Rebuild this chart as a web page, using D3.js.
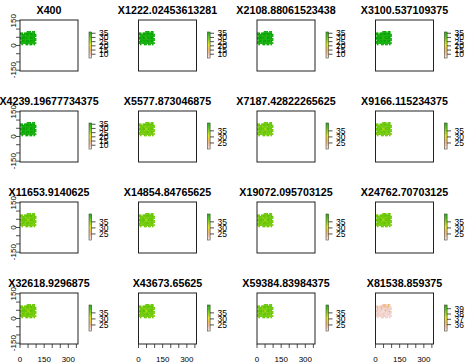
<!DOCTYPE html>
<html>
<head>
<meta charset="utf-8">
<title>Raster stack</title>
<style>
  body { margin: 0; background: #fff; }
  svg { display: block; font-family: "Liberation Sans", Arial, sans-serif; }
</style>
</head>
<body>
<svg id="chart"></svg>
<script src="https://d3js.org/d3.v7.min.js"></script>
<script>
// layer names
var titles = ["X400", "X1222.02453613281", "X2108.88061523438", "X3100.537109375",
  "X4239.19677734375", "X5577.873046875", "X7187.42822265625", "X9166.115234375",
  "X11653.9140625", "X14854.84765625", "X19072.095703125", "X24762.70703125",
  "X32618.9296875", "X43673.65625", "X59384.83984375", "X81538.859375"];

// colour legend range for every layer
var legendMin = [5.5, 5.5, 5.5, 5.5, 5.5, 20, 20, 20, 20, 20, 20, 20, 20, 20, 20, 34.8];
var legendMax = [36.5, 36.5, 36.5, 36.5, 36.5, 41.5, 41.5, 41.5, 41.5, 41.5, 41.5, 41.5, 41.5, 41.5, 41.5, 39.7];
var legendTicks = [
  [35, 30, 25, 20, 15, 10], [35, 30, 25, 20, 15, 10], [35, 30, 25, 20, 15, 10],
  [35, 30, 25, 20, 15, 10], [35, 30, 25, 20, 15, 10],
  [35, 30, 25], [35, 30, 25], [35, 30, 25], [35, 30, 25], [35, 30, 25],
  [35, 30, 25], [35, 30, 25], [35, 30, 25], [35, 30, 25], [35, 30, 25],
  [39, 38, 37, 36]];

// which cell grid each layer uses
var gridOf = [0, 0, 0, 0, 0, 0, 0, 0, 0, 0, 0, 0, 0, 0, 0, 1];

// cell values, top row first (null = NA)
var greenGrid = [
  [null, null, null, null, null, 35.6, 35.8, 36.0, null, 35.9, 36.1, null],
  [35.2, 35.4, null, 35.8, 36.0, 36.2, 36.1, 36.3, 36.4, 36.2, 36.0, null],
  [35.5, 35.7, 35.9, 34.8, 36.1, 36.0, 35.2, 36.4, 36.3, 35.0, 36.2, 35.8],
  [null, 35.8, 36.0, 36.2, 33.9, 36.3, 36.5, 34.2, 36.4, 36.2, 36.0, 35.9],
  [35.6, 35.9, 36.1, 36.3, 36.4, 33.5, 34.0, 36.5, 36.3, 36.1, 35.9, null],
  [35.7, 36.0, 36.2, 36.4, 36.5, 34.1, 33.6, 36.4, 36.2, 36.0, 35.8, 35.6],
  [null, 35.9, 36.1, 36.0, 34.0, 36.3, 36.4, 34.4, 36.1, 35.9, 35.7, 35.5],
  [35.4, 35.7, 35.9, 34.6, 36.1, 36.2, 36.1, 36.0, 34.9, 35.8, 35.6, null],
  [35.3, 35.5, 35.6, 35.8, 35.9, 36.0, 35.9, 35.8, 35.7, 35.5, 35.4, 35.2],
  [null, 35.2, null, null, 35.6, 35.7, null, 35.6, 35.5, null, 35.3, null]
];
var paleGrid = [
  [null, null, null, null, null, 35.4, 35.6, 35.5, null, 36.2, 35.3, null],
  [35.2, 35.3, null, 35.5, 35.4, 35.6, 36.3, 35.5, 35.4, 36.6, 35.3, null],
  [35.1, 36.4, 35.3, 35.2, 35.5, 35.3, 35.2, 35.4, 35.6, 35.3, 35.2, 35.1],
  [null, 35.4, 35.2, 35.1, 36.1, 35.2, 35.3, 35.1, 35.2, 35.4, 35.3, 35.2],
  [35.3, 35.5, 35.2, 35.1, 35.2, 35.0, 35.1, 36.2, 35.3, 35.1, 35.2, null],
  [35.4, 35.2, 35.1, 35.3, 35.1, 35.0, 35.1, 35.2, 35.1, 35.3, 36.0, 35.2],
  [null, 35.3, 35.2, 35.1, 35.0, 35.2, 35.3, 35.1, 35.2, 35.1, 35.2, 35.1],
  [35.2, 35.4, 35.3, 35.1, 35.2, 35.4, 35.1, 35.0, 35.1, 35.2, 35.3, null],
  [35.1, 35.2, 35.3, 35.2, 35.1, 35.2, 35.3, 35.2, 35.1, 35.0, 35.1, 35.2],
  [null, 35.1, null, null, 35.2, 35.3, null, 35.1, 35.2, null, 35.1, null]
];
var grids = [greenGrid, paleGrid];

// raster extent in map units
var gridX = [0, 100];
var gridY = [3, 88];

var xTicks = [0, 50, 100, 150, 200, 250, 300, 350];
var xLabels = [0, 150, 300];
var yTicks = [-150, -100, -50, 0, 50, 100, 150];
var yLabels = [-150, 0, 150];

var width = 474, height = 364;
var boxW = 58, boxH = 51;

var svg = d3.select("#chart")
  .attr("width", width)
  .attr("height", height);

// R terrain.colors, t = 0 green ... t = 1 light grey
function hsv(h, s, v) {
  var c = v * s, hp = h / 60, x = c * (1 - Math.abs(hp % 2 - 1)), m = v - c;
  var r = 0, g = 0, b = 0;
  if (hp < 1) { r = c; g = x; }
  else if (hp < 2) { r = x; g = c; }
  else { g = c; b = x; }
  return d3.rgb((r + m) * 255, (g + m) * 255, (b + m) * 255);
}
function terrain(t) {
  if (t <= 0.5) {
    var u = t / 0.5;
    return hsv(120 - 60 * u, 1, 0.65 + 0.25 * u);
  }
  var w = (t - 0.5) / 0.5;
  return hsv(60 - 60 * w, 1 - w, 0.9 + 0.05 * w);
}

titles.forEach(function(title, i) {
  var left = 20 + (i % 4) * 118.5,
      top = 20 + Math.floor(i / 4) * 91;
  var g = svg.append("g");

  var x = d3.scaleLinear().domain([0, 360]).range([left, left + boxW]);
  var y = d3.scaleLinear().domain([-155, 155]).range([top + boxH, top]);
  var tcol = d3.scaleLinear().domain([legendMax[i], legendMin[i]]).range([0, 1]).clamp(true);

  // raster cells
  var grid = grids[gridOf[i]];
  var nr = grid.length, nc = grid[0].length;
  var cw = (gridX[1] - gridX[0]) / nc, ch = (gridY[1] - gridY[0]) / nr;
  var cells = [];
  grid.forEach(function(row, r) {
    row.forEach(function(v, c) {
      if (v !== null) cells.push({ r: r, c: c, v: v });
    });
  });
  g.selectAll(".cell").data(cells).enter().append("rect")
    .attr("x", d => x(gridX[0] + d.c * cw))
    .attr("y", d => y(gridY[1] - d.r * ch))
    .attr("width", x(cw) - x(0) + 0.3)
    .attr("height", y(0) - y(ch) + 0.3)
    .attr("fill", d => terrain(tcol(d.v)));

  // frame
  g.append("rect")
    .attr("x", left).attr("y", top)
    .attr("width", boxW).attr("height", boxH)
    .attr("fill", "none").attr("stroke", "#222").attr("stroke-width", 1);

  g.append("text")
    .attr("x", left + boxW / 2).attr("y", top - 6)
    .attr("text-anchor", "middle")
    .style("font-size", "10.7px").style("font-weight", "bold")
    .text(title);

  // legend bar
  var ly = d3.scaleLinear().domain([legendMin[i], legendMax[i]]).range([top + 38, top + 12]);
  var lx = left + boxW + 11;
  var steps = d3.range(60).map(k => legendMin[i] + (legendMax[i] - legendMin[i]) * k / 60);
  var stepH = (ly.range()[0] - ly.range()[1]) / 60;
  g.selectAll(".lg").data(steps).enter().append("rect")
    .attr("x", lx).attr("width", 2.6)
    .attr("y", d => ly(d) - stepH)
    .attr("height", stepH + 0.2)
    .attr("fill", d => terrain(tcol(d)));
  g.append("rect")
    .attr("x", lx).attr("y", ly.range()[1])
    .attr("width", 2.6).attr("height", ly.range()[0] - ly.range()[1])
    .attr("fill", "none").attr("stroke", "#4a4a30").attr("stroke-width", 0.6);
  g.selectAll(".lt").data(legendTicks[i]).enter().append("line")
    .attr("x1", lx + 2.6).attr("x2", lx + 6.5)
    .attr("y1", d => ly(d)).attr("y2", d => ly(d))
    .attr("stroke", "#222").attr("stroke-width", 0.8);
  g.selectAll(".ll").data(legendTicks[i]).enter().append("text")
    .attr("x", lx + 10).attr("y", d => ly(d))
    .attr("dy", "0.35em")
    .style("font-size", "8.5px")
    .text(d => d);

  // left axis only in first column
  if (i % 4 === 0) {
    g.selectAll(".yt").data(yTicks).enter().append("line")
      .attr("x1", left - 4).attr("x2", left)
      .attr("y1", d => y(d)).attr("y2", d => y(d))
      .attr("stroke", "#222").attr("stroke-width", 0.8);
    g.selectAll(".yl").data(yLabels).enter().append("text")
      .attr("transform", d => "translate(" + (left - 4.5) + "," + y(d) + ") rotate(-90)")
      .attr("text-anchor", "middle")
      .style("font-size", "8px")
      .text(d => d);
  }
  // bottom axis only in last row
  if (i >= 12) {
    g.selectAll(".xt").data(xTicks).enter().append("line")
      .attr("x1", d => x(d)).attr("x2", d => x(d))
      .attr("y1", top + boxH).attr("y2", top + boxH + 4)
      .attr("stroke", "#222").attr("stroke-width", 0.8);
    g.selectAll(".xl").data(xLabels).enter().append("text")
      .attr("x", d => x(d)).attr("y", top + boxH + 18)
      .attr("text-anchor", "middle")
      .style("font-size", "8px")
      .text(d => d);
  }
});
</script>
</body>
</html>
